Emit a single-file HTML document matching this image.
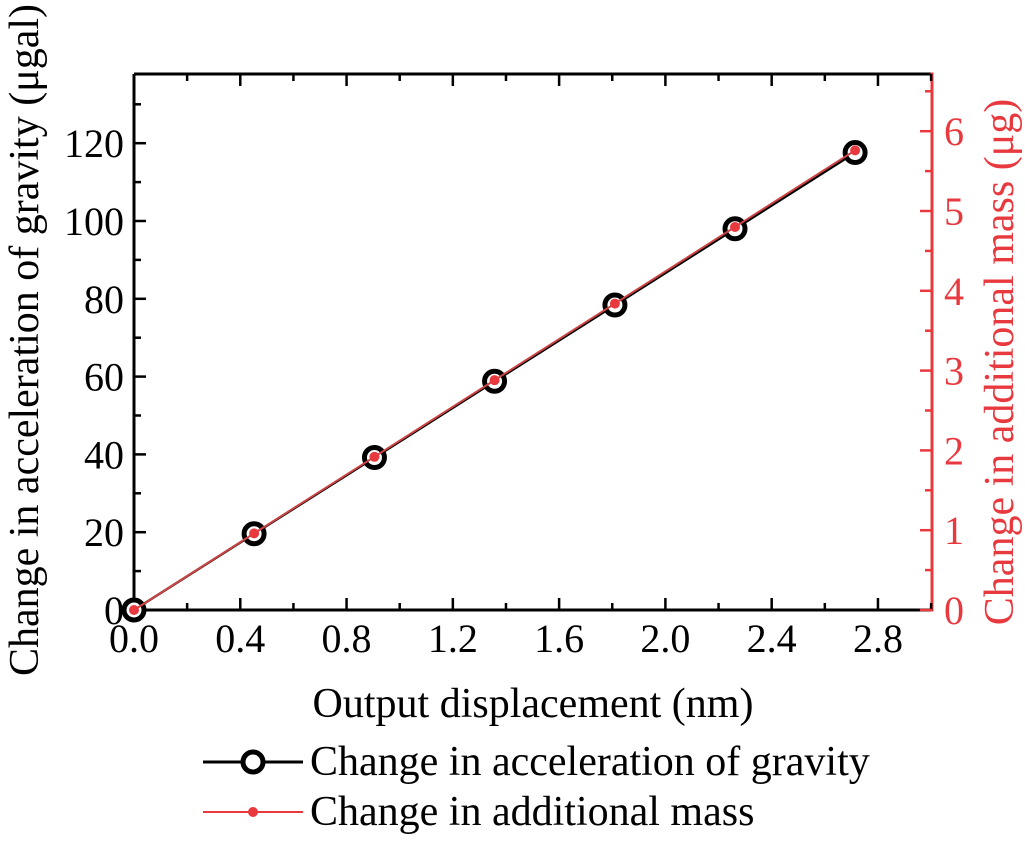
<!DOCTYPE html>
<html><head><meta charset="utf-8"><style>
body{margin:0;background:#fff}
svg text{font-family:"Liberation Serif",serif}
</style></head><body>
<svg id="chart" width="1025" height="841"></svg>
<script>
const xVals=[0,0.452,0.905,1.357,1.81,2.262,2.714];
const gravity=[0,19.6,39.2,58.8,78.4,98.0,117.6];
const mass=[0,0.96,1.92,2.88,3.84,4.80,5.76];
const xTicks=[0,0.4,0.8,1.2,1.6,2.0,2.4,2.8];
const yTicks=[0,20,40,60,80,100,120];
const y2Ticks=[0,1,2,3,4,5,6];
const L=134,R=932,T=74,B=610;
const X=v=>L+v*265.7, Y=v=>B-v*3.89, Y2=v=>B-v*79.8;
const svg=document.getElementById('chart');
const NS='http://www.w3.org/2000/svg';
function mk(t,a,txt){const e=document.createElementNS(NS,t);for(const k in a)e.setAttribute(k,a[k]);if(txt!==undefined)e.textContent=txt;svg.appendChild(e);return e;}
const RED='#e8393f';
let e;
e=mk('line',{x1:L,y1:B,x2:R,y2:B,stroke:'#000','stroke-width':3});

e=mk('line',{x1:L,y1:B+1.5,x2:L,y2:T,stroke:'#000','stroke-width':3});

e=mk('line',{x1:L,y1:T,x2:R,y2:T,stroke:'#000','stroke-width':3});

e=mk('line',{x1:R,y1:T-1.5,x2:R,y2:B+1.5,stroke:RED,'stroke-width':3});

xTicks.forEach((v,i)=>{
 mk('line',{x1:X(v),y1:B,x2:X(v),y2:B-12,stroke:'#000','stroke-width':2.5});
 mk('line',{x1:X(v),y1:T,x2:X(v),y2:T+12,stroke:'#000','stroke-width':2.5});
 const m=v+0.2; if(X(m)<R){mk('line',{x1:X(m),y1:B,x2:X(m),y2:B-7,stroke:'#000','stroke-width':2.5});mk('line',{x1:X(m),y1:T,x2:X(m),y2:T+7,stroke:'#000','stroke-width':2.5});}
 e=mk('text',{x:X(v),y:B+42,'font-size':40,'text-anchor':'middle'},v.toFixed(1));
 
});
yTicks.forEach(v=>{
 mk('line',{x1:L,y1:Y(v),x2:L+12,y2:Y(v),stroke:'#000','stroke-width':2.5});
 const m=v+10; if(Y(m)>T) mk('line',{x1:L,y1:Y(m),x2:L+7,y2:Y(m),stroke:'#000','stroke-width':2.5});
 e=mk('text',{x:L-10,y:Y(v)+14,'font-size':40,'text-anchor':'end'},v);
 
});
y2Ticks.forEach(v=>{
 mk('line',{x1:R,y1:Y2(v),x2:R-12,y2:Y2(v),stroke:RED,'stroke-width':2.5});
 const m=v+0.5; if(Y2(m)>T) mk('line',{x1:R,y1:Y2(m),x2:R-7,y2:Y2(m),stroke:RED,'stroke-width':2.5});
 e=mk('text',{x:R+12,y:Y2(v)+14,'font-size':40,fill:RED},v);
 
});
e=mk('text',{x:533,y:717,'font-size':42,'text-anchor':'middle'},'Output displacement (nm)');

e=mk('text',{x:0,y:0,'font-size':42,'text-anchor':'middle',transform:'translate(38,340) rotate(-90)'},'Change in acceleration of gravity (μgal)');

e=mk('text',{x:0,y:0,'font-size':42,fill:RED,'text-anchor':'middle',transform:'translate(1013,362) rotate(-90)'},'Change in additional mass (μg)');

e=mk('polyline',{points:xVals.map((x,i)=>X(x)+','+Y(gravity[i])).join(' '),fill:'none',stroke:'#000','stroke-width':2.5});

xVals.forEach((x,i)=>{e=mk('circle',{cx:X(x),cy:Y(gravity[i]),r:10,fill:'#fff',stroke:'#000','stroke-width':5});
});
e=mk('polyline',{points:xVals.map((x,i)=>X(x)+','+Y2(mass[i])).join(' '),fill:'none',stroke:'#c44',"stroke-width":2});

xVals.forEach((x,i)=>{e=mk('circle',{cx:X(x),cy:Y2(mass[i]),r:5,fill:RED});
});
mk('line',{x1:203,y1:762,x2:303,y2:762,stroke:'#000','stroke-width':3});
mk('circle',{cx:253,cy:762,r:10,fill:'#fff',stroke:'#000','stroke-width':5});
e=mk('text',{x:310,y:775,'font-size':42},'Change in acceleration of gravity');

mk('line',{x1:203,y1:812,x2:303,y2:812,stroke:RED,'stroke-width':2});
mk('circle',{cx:253,cy:812,r:5,fill:RED});
e=mk('text',{x:310,y:825,'font-size':42},'Change in additional mass');

</script>
</body></html>
